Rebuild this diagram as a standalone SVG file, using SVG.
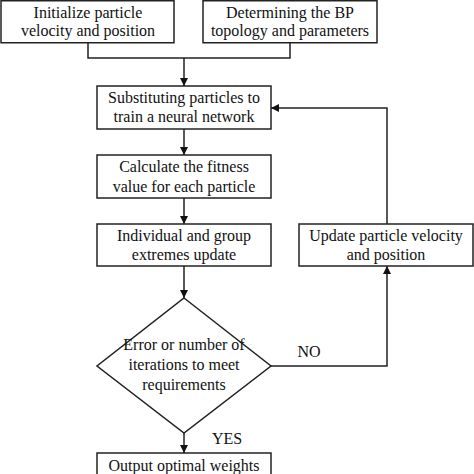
<svg xmlns="http://www.w3.org/2000/svg" width="474" height="474" viewBox="0 0 474 474">
<defs>
<style>
.box{fill:#fff;stroke:#222;stroke-width:1.5}
.t{font-family:"Liberation Serif","Times New Roman",serif;font-size:16px;fill:#111;text-anchor:middle}
.c{fill:none;stroke:#222;stroke-width:1.5}
</style>
<marker id="arr" viewBox="0 0 10 10" refX="10" refY="5" markerWidth="8" markerHeight="8" markerUnits="userSpaceOnUse" orient="auto"><path d="M0,0 L10,5 L0,10 z" fill="#111"/></marker>
</defs>
<rect width="474" height="474" fill="#fff"/>
<g id="connectors">
<path class="c" d="M88,43 V58 H290 V43"/>
<path class="c" d="M184,58 V86" marker-end="url(#arr)"/>
<path class="c" d="M184,129 V155" marker-end="url(#arr)"/>
<path class="c" d="M184,198 V224" marker-end="url(#arr)"/>
<path class="c" d="M184,266 V298" marker-end="url(#arr)"/>
<path class="c" d="M184,433 V453" marker-end="url(#arr)"/>
<path class="c" d="M271,366 H387 V266" marker-end="url(#arr)"/>
<path class="c" d="M387,224 V108 H271" marker-end="url(#arr)"/>
<text class="t" x="309" y="357">NO</text>
<text class="t" x="227" y="444">YES</text>
</g>
<g id="n1"><rect class="box" x="1" y="0.75" width="173" height="42"/><text class="t" x="88" y="18">Initialize particle</text><text class="t" x="88" y="36">velocity and position</text></g>
<g id="n2"><rect class="box" x="203" y="0.75" width="174" height="42"/><text class="t" x="290" y="18">Determining the BP</text><text class="t" x="290" y="36">topology and parameters</text></g>
<g id="n3"><rect class="box" x="97" y="86" width="174" height="43"/><text class="t" x="184" y="103">Substituting particles to</text><text class="t" x="184" y="122">train a neural network</text></g>
<g id="n4"><rect class="box" x="97" y="155" width="174" height="43"/><text class="t" x="184" y="172">Calculate the fitness</text><text class="t" x="184" y="192">value for each particle</text></g>
<g id="n5"><rect class="box" x="97" y="224" width="174" height="42"/><text class="t" x="184" y="241">Individual and group</text><text class="t" x="184" y="260">extremes update</text></g>
<g id="n6"><rect class="box" x="299" y="224" width="174" height="42"/><text class="t" x="386" y="241">Update particle velocity</text><text class="t" x="386" y="260">and position</text></g>
<g id="n7"><path class="box" d="M184,298 L271,366 L184,433 L97,366 Z"/><text class="t" x="184" y="350">Error or number of</text><text class="t" x="184" y="370">iterations to meet</text><text class="t" x="184" y="390">requirements</text></g>
<g id="n8"><rect class="box" x="97" y="453" width="174" height="30"/><text class="t" x="184" y="471">Output optimal weights</text></g>
</svg>
